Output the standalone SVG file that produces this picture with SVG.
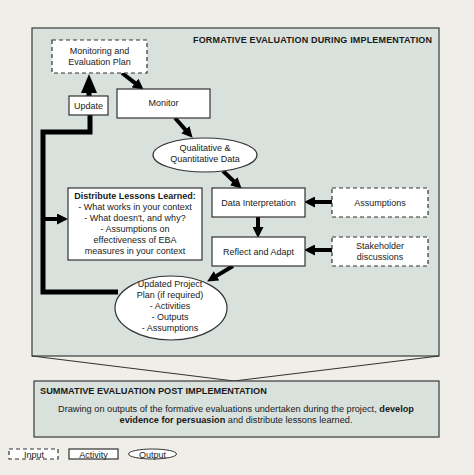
<svg xmlns="http://www.w3.org/2000/svg" width="474" height="475" viewBox="0 0 474 475">
<style>
text{font-family:"Liberation Sans",Arial,sans-serif;font-size:9px;fill:#1a1a1a}
.c{text-anchor:middle}
.b{font-weight:bold}
.s{font-size:9.2px}
.box{fill:#ffffff;stroke:#333;stroke-width:1.2}
.dash{fill:#ffffff;stroke:#333;stroke-width:1.2;stroke-dasharray:4,3}
.panel{fill:#d9e1dd;stroke:#3a3a3a;stroke-width:1.2}
.arr{stroke:#000;stroke-width:4;fill:none;marker-end:url(#ah)}
.thick{stroke:#000;stroke-width:5;fill:none}
</style>
<defs>
<marker id="ah" markerUnits="userSpaceOnUse" markerWidth="11" markerHeight="11" refX="3" refY="5.5" orient="auto">
<path d="M0,0 L11,5.5 L0,11 z" fill="#000"/>
</marker>
</defs>
<rect x="0" y="0" width="474" height="475" fill="#efeee8"/>
<g id="formative">
<rect class="panel" x="32" y="28" width="407" height="328"/>
<text class="b" x="432" y="43" text-anchor="end" textLength="239">FORMATIVE EVALUATION DURING IMPLEMENTATION</text>
</g>
<g id="funnel">
<polyline points="32,356 234,381 439,356" fill="none" stroke="#333" stroke-width="1.2"/>
</g>
<g id="summative">
<rect class="panel" x="34" y="381" width="405" height="56"/>
<text class="b s" x="40" y="394">SUMMATIVE EVALUATION POST IMPLEMENTATION</text>
<text class="c s" x="236" y="412">Drawing on outputs of the formative evaluations undertaken during the project, <tspan class="b">develop</tspan></text>
<text class="c s" x="236" y="423"><tspan class="b">evidence for persuasion</tspan> and distribute lessons learned.</text>
</g>
<g id="connectors">
<polyline class="thick" points="90,115 90,132 43,132 43,292 118,292"/>
<line x1="89" y1="96" x2="89" y2="92" stroke="#000" stroke-width="5"/>
<polygon points="81,93 97,93 89,74" fill="#000"/>
<line class="arr" x1="43" y1="219" x2="60" y2="219"/>
<line class="arr" x1="122" y1="73" x2="137.4" y2="84.8"/>
<line class="arr" x1="175" y1="118" x2="187.3" y2="131.8"/>
<line class="arr" x1="223" y1="171" x2="235.9" y2="183.2"/>
<line class="arr" x1="332" y1="202" x2="312" y2="202"/>
<line class="arr" x1="258" y1="217" x2="258" y2="230"/>
<line class="arr" x1="332" y1="250" x2="312" y2="250"/>
<line class="arr" x1="233" y1="266" x2="214" y2="277.4"/>
</g>
<g id="me-plan">
<rect class="dash" x="52" y="40" width="95" height="33"/>
<text class="c" x="99.5" y="54">Monitoring and</text>
<text class="c" x="99.5" y="65">Evaluation Plan</text>
</g>
<g id="monitor">
<rect class="box" x="117" y="89" width="93" height="29"/>
<text class="c" x="163.5" y="106">Monitor</text>
</g>
<g id="update">
<rect class="box" x="69" y="96" width="39" height="19"/>
<text class="c" x="88.5" y="108.5">Update</text>
</g>
<g id="qual-data">
<ellipse cx="205" cy="155" rx="52" ry="17" fill="#fff" stroke="#333" stroke-width="1.2"/>
<text class="c" x="205" y="151">Qualitative &amp;</text>
<text class="c" x="205" y="162">Quantitative Data</text>
</g>
<g id="distribute">
<rect class="box" x="68" y="188" width="134" height="72"/>
<text class="c b" x="135" y="199">Distribute Lessons Learned:</text>
<text class="c" x="135" y="210">- What works in your context</text>
<text class="c" x="135" y="221">- What doesn't, and why?</text>
<text class="c" x="135" y="232">- Assumptions on</text>
<text class="c" x="135" y="243">effectiveness of EBA</text>
<text class="c" x="135" y="254">measures in your context</text>
</g>
<g id="data-interp">
<rect class="box" x="212" y="188" width="93" height="29"/>
<text class="c" x="258.5" y="205.5">Data Interpretation</text>
</g>
<g id="assumptions">
<rect class="dash" x="332" y="188" width="96" height="29"/>
<text class="c" x="380" y="205.5">Assumptions</text>
</g>
<g id="reflect">
<rect class="box" x="212" y="237" width="93" height="29"/>
<text class="c" x="258.5" y="254.5">Reflect and Adapt</text>
</g>
<g id="stakeholder">
<rect class="dash" x="332" y="237" width="96" height="29"/>
<text class="c" x="380" y="249">Stakeholder</text>
<text class="c" x="380" y="260">discussions</text>
</g>
<g id="updated-plan">
<ellipse cx="171" cy="308" rx="56" ry="32" fill="#fff" stroke="#333" stroke-width="1.2"/>
<text class="c" x="170" y="287">Updated Project</text>
<text class="c" x="170" y="298">Plan (if required)</text>
<text class="c" x="170" y="309">- Activities</text>
<text class="c" x="170" y="320">- Outputs</text>
<text class="c" x="170" y="331">- Assumptions</text>
</g>
<g id="legend">
<rect class="dash" x="9" y="449" width="49" height="10" stroke-dasharray="3,2" stroke-width="1"/>
<text class="c" x="34" y="457.5">Input</text>
<rect class="box" x="69" y="449" width="49" height="10" stroke-width="1"/>
<text class="c" x="93.5" y="457.5">Activity</text>
<ellipse cx="152.5" cy="454" rx="24" ry="5" fill="#fff" stroke="#333" stroke-width="1"/>
<text class="c" x="152.5" y="457.5">Output</text>
</g>
</svg>
